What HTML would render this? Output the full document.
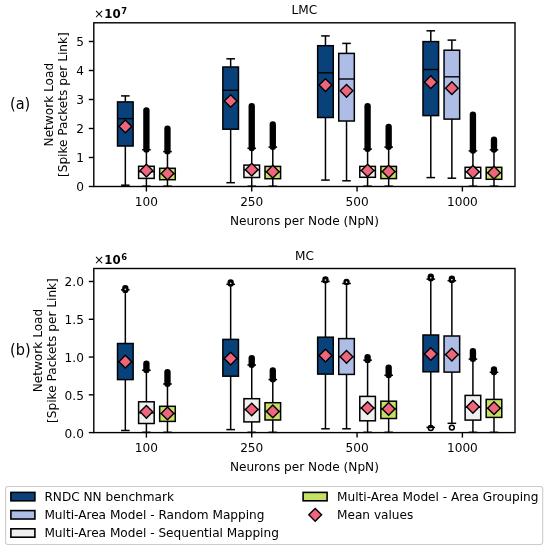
<!DOCTYPE html>
<html><head><meta charset="utf-8"><title>Network Load</title>
<style>html,body{margin:0;padding:0;background:#fff;} svg{display:block;}</style>
</head><body>
<svg width="547" height="550" viewBox="0 0 547 550" font-family="'DejaVu Sans', 'Liberation Sans', sans-serif">
<rect width="547" height="550" fill="#fff"/>
<line x1="125.33" y1="146" x2="125.33" y2="185.2" stroke="#000" stroke-width="1.5"/>
<line x1="125.33" y1="101.9" x2="125.33" y2="95.9" stroke="#000" stroke-width="1.5"/>
<line x1="121.03" y1="185.2" x2="129.63" y2="185.2" stroke="#000" stroke-width="1.5"/>
<line x1="121.03" y1="95.9" x2="129.63" y2="95.9" stroke="#000" stroke-width="1.5"/>
<rect x="117.53" y="101.9" width="15.6" height="44.1" fill="#09427a" stroke="#000" stroke-width="1.5"/>
<line x1="146.4" y1="178.4" x2="146.4" y2="186.2" stroke="#000" stroke-width="1.5"/>
<line x1="146.4" y1="166.3" x2="146.4" y2="149.7" stroke="#000" stroke-width="1.5"/>
<line x1="142.1" y1="186.2" x2="150.7" y2="186.2" stroke="#000" stroke-width="1.5"/>
<line x1="142.1" y1="149.7" x2="150.7" y2="149.7" stroke="#000" stroke-width="1.5"/>
<rect x="138.6" y="166.3" width="15.6" height="12.1" fill="#f0f0f0" stroke="#000" stroke-width="1.5"/>
<line x1="146.4" y1="110.37" x2="146.4" y2="149.42" stroke="#000" stroke-width="6.35" stroke-linecap="round"/>
<line x1="167.47" y1="179.7" x2="167.47" y2="186.2" stroke="#000" stroke-width="1.5"/>
<line x1="167.47" y1="168.3" x2="167.47" y2="151.6" stroke="#000" stroke-width="1.5"/>
<line x1="163.17" y1="186.2" x2="171.77" y2="186.2" stroke="#000" stroke-width="1.5"/>
<line x1="163.17" y1="151.6" x2="171.77" y2="151.6" stroke="#000" stroke-width="1.5"/>
<rect x="159.67" y="168.3" width="15.6" height="11.4" fill="#c4e065" stroke="#000" stroke-width="1.5"/>
<line x1="167.47" y1="128.68" x2="167.47" y2="151.32" stroke="#000" stroke-width="6.35" stroke-linecap="round"/>
<line x1="230.66" y1="129.2" x2="230.66" y2="182.7" stroke="#000" stroke-width="1.5"/>
<line x1="230.66" y1="67" x2="230.66" y2="58.8" stroke="#000" stroke-width="1.5"/>
<line x1="226.36" y1="182.7" x2="234.96" y2="182.7" stroke="#000" stroke-width="1.5"/>
<line x1="226.36" y1="58.8" x2="234.96" y2="58.8" stroke="#000" stroke-width="1.5"/>
<rect x="222.86" y="67" width="15.6" height="62.2" fill="#09427a" stroke="#000" stroke-width="1.5"/>
<line x1="251.73" y1="177.5" x2="251.73" y2="186.2" stroke="#000" stroke-width="1.5"/>
<line x1="251.73" y1="165.1" x2="251.73" y2="148.3" stroke="#000" stroke-width="1.5"/>
<line x1="247.43" y1="186.2" x2="256.03" y2="186.2" stroke="#000" stroke-width="1.5"/>
<line x1="247.43" y1="148.3" x2="256.03" y2="148.3" stroke="#000" stroke-width="1.5"/>
<rect x="243.93" y="165.1" width="15.6" height="12.4" fill="#f0f0f0" stroke="#000" stroke-width="1.5"/>
<line x1="251.73" y1="106.07" x2="251.73" y2="148.03" stroke="#000" stroke-width="6.35" stroke-linecap="round"/>
<line x1="272.8" y1="178.7" x2="272.8" y2="186.2" stroke="#000" stroke-width="1.5"/>
<line x1="272.8" y1="166.4" x2="272.8" y2="147.1" stroke="#000" stroke-width="1.5"/>
<line x1="268.5" y1="186.2" x2="277.1" y2="186.2" stroke="#000" stroke-width="1.5"/>
<line x1="268.5" y1="147.1" x2="277.1" y2="147.1" stroke="#000" stroke-width="1.5"/>
<rect x="265" y="166.4" width="15.6" height="12.3" fill="#c4e065" stroke="#000" stroke-width="1.5"/>
<line x1="272.8" y1="124.47" x2="272.8" y2="146.82" stroke="#000" stroke-width="6.35" stroke-linecap="round"/>
<line x1="325.46" y1="117.5" x2="325.46" y2="180.1" stroke="#000" stroke-width="1.5"/>
<line x1="325.46" y1="45.7" x2="325.46" y2="35.9" stroke="#000" stroke-width="1.5"/>
<line x1="321.16" y1="180.1" x2="329.76" y2="180.1" stroke="#000" stroke-width="1.5"/>
<line x1="321.16" y1="35.9" x2="329.76" y2="35.9" stroke="#000" stroke-width="1.5"/>
<rect x="317.66" y="45.7" width="15.6" height="71.8" fill="#09427a" stroke="#000" stroke-width="1.5"/>
<line x1="346.53" y1="121" x2="346.53" y2="180.8" stroke="#000" stroke-width="1.5"/>
<line x1="346.53" y1="53.4" x2="346.53" y2="43.4" stroke="#000" stroke-width="1.5"/>
<line x1="342.23" y1="180.8" x2="350.83" y2="180.8" stroke="#000" stroke-width="1.5"/>
<line x1="342.23" y1="43.4" x2="350.83" y2="43.4" stroke="#000" stroke-width="1.5"/>
<rect x="338.73" y="53.4" width="15.6" height="67.6" fill="#aebde6" stroke="#000" stroke-width="1.5"/>
<line x1="367.59" y1="177.3" x2="367.59" y2="186.2" stroke="#000" stroke-width="1.5"/>
<line x1="367.59" y1="166.4" x2="367.59" y2="149.1" stroke="#000" stroke-width="1.5"/>
<line x1="363.29" y1="186.2" x2="371.89" y2="186.2" stroke="#000" stroke-width="1.5"/>
<line x1="363.29" y1="149.1" x2="371.89" y2="149.1" stroke="#000" stroke-width="1.5"/>
<rect x="359.79" y="166.4" width="15.6" height="10.9" fill="#f0f0f0" stroke="#000" stroke-width="1.5"/>
<line x1="367.59" y1="106.17" x2="367.59" y2="148.82" stroke="#000" stroke-width="6.35" stroke-linecap="round"/>
<line x1="388.66" y1="178.6" x2="388.66" y2="186.2" stroke="#000" stroke-width="1.5"/>
<line x1="388.66" y1="166.4" x2="388.66" y2="147.1" stroke="#000" stroke-width="1.5"/>
<line x1="384.36" y1="186.2" x2="392.96" y2="186.2" stroke="#000" stroke-width="1.5"/>
<line x1="384.36" y1="147.1" x2="392.96" y2="147.1" stroke="#000" stroke-width="1.5"/>
<rect x="380.86" y="166.4" width="15.6" height="12.2" fill="#c4e065" stroke="#000" stroke-width="1.5"/>
<line x1="388.66" y1="126.87" x2="388.66" y2="146.82" stroke="#000" stroke-width="6.35" stroke-linecap="round"/>
<line x1="430.79" y1="115.6" x2="430.79" y2="177.6" stroke="#000" stroke-width="1.5"/>
<line x1="430.79" y1="41.6" x2="430.79" y2="30.8" stroke="#000" stroke-width="1.5"/>
<line x1="426.49" y1="177.6" x2="435.09" y2="177.6" stroke="#000" stroke-width="1.5"/>
<line x1="426.49" y1="30.8" x2="435.09" y2="30.8" stroke="#000" stroke-width="1.5"/>
<rect x="422.99" y="41.6" width="15.6" height="74" fill="#09427a" stroke="#000" stroke-width="1.5"/>
<line x1="451.86" y1="119.1" x2="451.86" y2="178.2" stroke="#000" stroke-width="1.5"/>
<line x1="451.86" y1="50.2" x2="451.86" y2="40.1" stroke="#000" stroke-width="1.5"/>
<line x1="447.56" y1="178.2" x2="456.16" y2="178.2" stroke="#000" stroke-width="1.5"/>
<line x1="447.56" y1="40.1" x2="456.16" y2="40.1" stroke="#000" stroke-width="1.5"/>
<rect x="444.06" y="50.2" width="15.6" height="68.9" fill="#aebde6" stroke="#000" stroke-width="1.5"/>
<line x1="472.92" y1="178.2" x2="472.92" y2="186.2" stroke="#000" stroke-width="1.5"/>
<line x1="472.92" y1="167.3" x2="472.92" y2="150.9" stroke="#000" stroke-width="1.5"/>
<line x1="468.62" y1="186.2" x2="477.22" y2="186.2" stroke="#000" stroke-width="1.5"/>
<line x1="468.62" y1="150.9" x2="477.22" y2="150.9" stroke="#000" stroke-width="1.5"/>
<rect x="465.12" y="167.3" width="15.6" height="10.9" fill="#f0f0f0" stroke="#000" stroke-width="1.5"/>
<line x1="472.92" y1="114.57" x2="472.92" y2="150.62" stroke="#000" stroke-width="6.35" stroke-linecap="round"/>
<line x1="493.99" y1="179.3" x2="493.99" y2="186.2" stroke="#000" stroke-width="1.5"/>
<line x1="493.99" y1="167.3" x2="493.99" y2="149.8" stroke="#000" stroke-width="1.5"/>
<line x1="489.69" y1="186.2" x2="498.29" y2="186.2" stroke="#000" stroke-width="1.5"/>
<line x1="489.69" y1="149.8" x2="498.29" y2="149.8" stroke="#000" stroke-width="1.5"/>
<rect x="486.19" y="167.3" width="15.6" height="12" fill="#c4e065" stroke="#000" stroke-width="1.5"/>
<line x1="493.99" y1="139.78" x2="493.99" y2="149.53" stroke="#000" stroke-width="6.35" stroke-linecap="round"/>
<line x1="117.53" y1="118.6" x2="133.13" y2="118.6" stroke="#000" stroke-width="1.4"/>
<line x1="138.6" y1="171.7" x2="154.2" y2="171.7" stroke="#000" stroke-width="1.4"/>
<line x1="159.67" y1="173.6" x2="175.27" y2="173.6" stroke="#000" stroke-width="1.4"/>
<line x1="222.86" y1="90.3" x2="238.46" y2="90.3" stroke="#000" stroke-width="1.4"/>
<line x1="243.93" y1="169.7" x2="259.53" y2="169.7" stroke="#000" stroke-width="1.4"/>
<line x1="265" y1="171.7" x2="280.6" y2="171.7" stroke="#000" stroke-width="1.4"/>
<line x1="317.66" y1="72.8" x2="333.26" y2="72.8" stroke="#000" stroke-width="1.4"/>
<line x1="338.73" y1="79" x2="354.33" y2="79" stroke="#000" stroke-width="1.4"/>
<line x1="359.79" y1="170.5" x2="375.39" y2="170.5" stroke="#000" stroke-width="1.4"/>
<line x1="380.86" y1="171.6" x2="396.46" y2="171.6" stroke="#000" stroke-width="1.4"/>
<line x1="422.99" y1="69.5" x2="438.59" y2="69.5" stroke="#000" stroke-width="1.4"/>
<line x1="444.06" y1="76.8" x2="459.66" y2="76.8" stroke="#000" stroke-width="1.4"/>
<line x1="465.12" y1="171.8" x2="480.72" y2="171.8" stroke="#000" stroke-width="1.4"/>
<line x1="486.19" y1="172.7" x2="501.79" y2="172.7" stroke="#000" stroke-width="1.4"/>
<path d="M125.33 120.05L131.68 126.4L125.33 132.75L118.98 126.4Z" fill="#ef657b" stroke="#000" stroke-width="1.4" stroke-linejoin="miter"/>
<path d="M146.4 164.25L152.75 170.6L146.4 176.95L140.05 170.6Z" fill="#ef657b" stroke="#000" stroke-width="1.4" stroke-linejoin="miter"/>
<path d="M167.47 167.25L173.82 173.6L167.47 179.95L161.12 173.6Z" fill="#ef657b" stroke="#000" stroke-width="1.4" stroke-linejoin="miter"/>
<path d="M230.66 94.65L237.01 101L230.66 107.35L224.31 101Z" fill="#ef657b" stroke="#000" stroke-width="1.4" stroke-linejoin="miter"/>
<path d="M251.73 163.35L258.08 169.7L251.73 176.05L245.38 169.7Z" fill="#ef657b" stroke="#000" stroke-width="1.4" stroke-linejoin="miter"/>
<path d="M272.8 165.35L279.15 171.7L272.8 178.05L266.45 171.7Z" fill="#ef657b" stroke="#000" stroke-width="1.4" stroke-linejoin="miter"/>
<path d="M325.46 78.75L331.81 85.1L325.46 91.45L319.11 85.1Z" fill="#ef657b" stroke="#000" stroke-width="1.4" stroke-linejoin="miter"/>
<path d="M346.53 84.45L352.88 90.8L346.53 97.15L340.18 90.8Z" fill="#ef657b" stroke="#000" stroke-width="1.4" stroke-linejoin="miter"/>
<path d="M367.59 164.15L373.94 170.5L367.59 176.85L361.24 170.5Z" fill="#ef657b" stroke="#000" stroke-width="1.4" stroke-linejoin="miter"/>
<path d="M388.66 165.25L395.01 171.6L388.66 177.95L382.31 171.6Z" fill="#ef657b" stroke="#000" stroke-width="1.4" stroke-linejoin="miter"/>
<path d="M430.79 75.85L437.14 82.2L430.79 88.55L424.44 82.2Z" fill="#ef657b" stroke="#000" stroke-width="1.4" stroke-linejoin="miter"/>
<path d="M451.86 81.85L458.21 88.2L451.86 94.55L445.51 88.2Z" fill="#ef657b" stroke="#000" stroke-width="1.4" stroke-linejoin="miter"/>
<path d="M472.92 165.45L479.27 171.8L472.92 178.15L466.57 171.8Z" fill="#ef657b" stroke="#000" stroke-width="1.4" stroke-linejoin="miter"/>
<path d="M493.99 166.35L500.34 172.7L493.99 179.05L487.64 172.7Z" fill="#ef657b" stroke="#000" stroke-width="1.4" stroke-linejoin="miter"/>
<rect x="93.8" y="22.8" width="421.2" height="163.7" fill="none" stroke="#000" stroke-width="1.4"/>
<line x1="88.8" y1="186.5" x2="93.8" y2="186.5" stroke="#000" stroke-width="1.4"/>
<text x="83.9" y="191.4" font-size="12.13" text-anchor="end">0</text>
<line x1="88.8" y1="157.5" x2="93.8" y2="157.5" stroke="#000" stroke-width="1.4"/>
<text x="83.9" y="162.4" font-size="12.13" text-anchor="end">1</text>
<line x1="88.8" y1="128.5" x2="93.8" y2="128.5" stroke="#000" stroke-width="1.4"/>
<text x="83.9" y="133.4" font-size="12.13" text-anchor="end">2</text>
<line x1="88.8" y1="99.5" x2="93.8" y2="99.5" stroke="#000" stroke-width="1.4"/>
<text x="83.9" y="104.4" font-size="12.13" text-anchor="end">3</text>
<line x1="88.8" y1="70.5" x2="93.8" y2="70.5" stroke="#000" stroke-width="1.4"/>
<text x="83.9" y="75.4" font-size="12.13" text-anchor="end">4</text>
<line x1="88.8" y1="41.5" x2="93.8" y2="41.5" stroke="#000" stroke-width="1.4"/>
<text x="83.9" y="46.4" font-size="12.13" text-anchor="end">5</text>
<line x1="146.4" y1="186.5" x2="146.4" y2="191.5" stroke="#000" stroke-width="1.4"/>
<text x="146.4" y="206.1" font-size="12.13" text-anchor="middle">100</text>
<line x1="251.73" y1="186.5" x2="251.73" y2="191.5" stroke="#000" stroke-width="1.4"/>
<text x="251.73" y="206.1" font-size="12.13" text-anchor="middle">250</text>
<line x1="357.06" y1="186.5" x2="357.06" y2="191.5" stroke="#000" stroke-width="1.4"/>
<text x="357.06" y="206.1" font-size="12.13" text-anchor="middle">500</text>
<line x1="462.39" y1="186.5" x2="462.39" y2="191.5" stroke="#000" stroke-width="1.4"/>
<text x="462.39" y="206.1" font-size="12.13" text-anchor="middle">1000</text>
<text x="304.4" y="224.6" font-size="12.13" text-anchor="middle">Neurons per Node (NpN)</text>
<text x="304.4" y="13.9" font-size="12.13" text-anchor="middle">LMC</text>
<line x1="125.33" y1="379.6" x2="125.33" y2="430.5" stroke="#000" stroke-width="1.5"/>
<line x1="125.33" y1="343.5" x2="125.33" y2="289.8" stroke="#000" stroke-width="1.5"/>
<line x1="121.03" y1="430.5" x2="129.63" y2="430.5" stroke="#000" stroke-width="1.5"/>
<line x1="121.03" y1="289.8" x2="129.63" y2="289.8" stroke="#000" stroke-width="1.5"/>
<rect x="117.53" y="343.5" width="15.6" height="36.1" fill="#09427a" stroke="#000" stroke-width="1.5"/>
<line x1="125.33" y1="288.18" x2="125.33" y2="289.92" stroke="#000" stroke-width="6.35" stroke-linecap="round"/>
<circle cx="125.33" cy="289.35" r="0.85" fill="#d8d8d8"/>
<line x1="146.4" y1="423.5" x2="146.4" y2="432.3" stroke="#000" stroke-width="1.5"/>
<line x1="146.4" y1="401.8" x2="146.4" y2="370.2" stroke="#000" stroke-width="1.5"/>
<line x1="142.1" y1="432.3" x2="150.7" y2="432.3" stroke="#000" stroke-width="1.5"/>
<line x1="142.1" y1="370.2" x2="150.7" y2="370.2" stroke="#000" stroke-width="1.5"/>
<rect x="138.6" y="401.8" width="15.6" height="21.7" fill="#f0f0f0" stroke="#000" stroke-width="1.5"/>
<line x1="146.4" y1="363.68" x2="146.4" y2="369.92" stroke="#000" stroke-width="6.35" stroke-linecap="round"/>
<line x1="167.47" y1="421.4" x2="167.47" y2="432.3" stroke="#000" stroke-width="1.5"/>
<line x1="167.47" y1="406.3" x2="167.47" y2="384" stroke="#000" stroke-width="1.5"/>
<line x1="163.17" y1="432.3" x2="171.77" y2="432.3" stroke="#000" stroke-width="1.5"/>
<line x1="163.17" y1="384" x2="171.77" y2="384" stroke="#000" stroke-width="1.5"/>
<rect x="159.67" y="406.3" width="15.6" height="15.1" fill="#c4e065" stroke="#000" stroke-width="1.5"/>
<line x1="167.47" y1="372.18" x2="167.47" y2="383.72" stroke="#000" stroke-width="6.35" stroke-linecap="round"/>
<line x1="230.66" y1="376.2" x2="230.66" y2="429.6" stroke="#000" stroke-width="1.5"/>
<line x1="230.66" y1="339.4" x2="230.66" y2="284.3" stroke="#000" stroke-width="1.5"/>
<line x1="226.36" y1="429.6" x2="234.96" y2="429.6" stroke="#000" stroke-width="1.5"/>
<line x1="226.36" y1="284.3" x2="234.96" y2="284.3" stroke="#000" stroke-width="1.5"/>
<rect x="222.86" y="339.4" width="15.6" height="36.8" fill="#09427a" stroke="#000" stroke-width="1.5"/>
<line x1="230.66" y1="282.38" x2="230.66" y2="283.52" stroke="#000" stroke-width="6.35" stroke-linecap="round"/>
<circle cx="230.66" cy="283.25" r="0.85" fill="#d8d8d8"/>
<line x1="251.73" y1="421.9" x2="251.73" y2="432.3" stroke="#000" stroke-width="1.5"/>
<line x1="251.73" y1="398.7" x2="251.73" y2="365" stroke="#000" stroke-width="1.5"/>
<line x1="247.43" y1="432.3" x2="256.03" y2="432.3" stroke="#000" stroke-width="1.5"/>
<line x1="247.43" y1="365" x2="256.03" y2="365" stroke="#000" stroke-width="1.5"/>
<rect x="243.93" y="398.7" width="15.6" height="23.2" fill="#f0f0f0" stroke="#000" stroke-width="1.5"/>
<line x1="251.73" y1="358.18" x2="251.73" y2="364.72" stroke="#000" stroke-width="6.35" stroke-linecap="round"/>
<line x1="272.8" y1="420" x2="272.8" y2="432.3" stroke="#000" stroke-width="1.5"/>
<line x1="272.8" y1="402.7" x2="272.8" y2="379.6" stroke="#000" stroke-width="1.5"/>
<line x1="268.5" y1="432.3" x2="277.1" y2="432.3" stroke="#000" stroke-width="1.5"/>
<line x1="268.5" y1="379.6" x2="277.1" y2="379.6" stroke="#000" stroke-width="1.5"/>
<rect x="265" y="402.7" width="15.6" height="17.3" fill="#c4e065" stroke="#000" stroke-width="1.5"/>
<line x1="272.8" y1="370.48" x2="272.8" y2="379.32" stroke="#000" stroke-width="6.35" stroke-linecap="round"/>
<line x1="325.46" y1="374.1" x2="325.46" y2="428.8" stroke="#000" stroke-width="1.5"/>
<line x1="325.46" y1="337.2" x2="325.46" y2="281.5" stroke="#000" stroke-width="1.5"/>
<line x1="321.16" y1="428.8" x2="329.76" y2="428.8" stroke="#000" stroke-width="1.5"/>
<line x1="321.16" y1="281.5" x2="329.76" y2="281.5" stroke="#000" stroke-width="1.5"/>
<rect x="317.66" y="337.2" width="15.6" height="36.9" fill="#09427a" stroke="#000" stroke-width="1.5"/>
<line x1="325.46" y1="279.38" x2="325.46" y2="280.22" stroke="#000" stroke-width="6.35" stroke-linecap="round"/>
<circle cx="325.46" cy="280.1" r="0.85" fill="#d8d8d8"/>
<line x1="346.53" y1="374.4" x2="346.53" y2="428.8" stroke="#000" stroke-width="1.5"/>
<line x1="346.53" y1="338.6" x2="346.53" y2="283.5" stroke="#000" stroke-width="1.5"/>
<line x1="342.23" y1="428.8" x2="350.83" y2="428.8" stroke="#000" stroke-width="1.5"/>
<line x1="342.23" y1="283.5" x2="350.83" y2="283.5" stroke="#000" stroke-width="1.5"/>
<rect x="338.73" y="338.6" width="15.6" height="35.8" fill="#aebde6" stroke="#000" stroke-width="1.5"/>
<line x1="346.53" y1="281.88" x2="346.53" y2="281.92" stroke="#000" stroke-width="6.35" stroke-linecap="round"/>
<circle cx="346.53" cy="282.2" r="0.85" fill="#d8d8d8"/>
<line x1="367.59" y1="420.8" x2="367.59" y2="432.3" stroke="#000" stroke-width="1.5"/>
<line x1="367.59" y1="396.4" x2="367.59" y2="360.2" stroke="#000" stroke-width="1.5"/>
<line x1="363.29" y1="432.3" x2="371.89" y2="432.3" stroke="#000" stroke-width="1.5"/>
<line x1="363.29" y1="360.2" x2="371.89" y2="360.2" stroke="#000" stroke-width="1.5"/>
<rect x="359.79" y="396.4" width="15.6" height="24.4" fill="#f0f0f0" stroke="#000" stroke-width="1.5"/>
<line x1="367.59" y1="357.28" x2="367.59" y2="359.92" stroke="#000" stroke-width="6.35" stroke-linecap="round"/>
<line x1="388.66" y1="418.5" x2="388.66" y2="432.3" stroke="#000" stroke-width="1.5"/>
<line x1="388.66" y1="401.2" x2="388.66" y2="375.3" stroke="#000" stroke-width="1.5"/>
<line x1="384.36" y1="432.3" x2="392.96" y2="432.3" stroke="#000" stroke-width="1.5"/>
<line x1="384.36" y1="375.3" x2="392.96" y2="375.3" stroke="#000" stroke-width="1.5"/>
<rect x="380.86" y="401.2" width="15.6" height="17.3" fill="#c4e065" stroke="#000" stroke-width="1.5"/>
<line x1="388.66" y1="367.58" x2="388.66" y2="375.02" stroke="#000" stroke-width="6.35" stroke-linecap="round"/>
<line x1="430.79" y1="371.8" x2="430.79" y2="427.4" stroke="#000" stroke-width="1.5"/>
<line x1="430.79" y1="335" x2="430.79" y2="279.1" stroke="#000" stroke-width="1.5"/>
<line x1="426.49" y1="427.4" x2="435.09" y2="427.4" stroke="#000" stroke-width="1.5"/>
<line x1="426.49" y1="279.1" x2="435.09" y2="279.1" stroke="#000" stroke-width="1.5"/>
<rect x="422.99" y="335" width="15.6" height="36.8" fill="#09427a" stroke="#000" stroke-width="1.5"/>
<line x1="430.79" y1="276.58" x2="430.79" y2="278.32" stroke="#000" stroke-width="6.35" stroke-linecap="round"/>
<circle cx="430.79" cy="277.75" r="0.85" fill="#d8d8d8"/>
<circle cx="430.79" cy="428" r="2.4" fill="none" stroke="#000" stroke-width="1.55"/>
<line x1="451.86" y1="372.1" x2="451.86" y2="423.3" stroke="#000" stroke-width="1.5"/>
<line x1="451.86" y1="336" x2="451.86" y2="280.7" stroke="#000" stroke-width="1.5"/>
<line x1="447.56" y1="423.3" x2="456.16" y2="423.3" stroke="#000" stroke-width="1.5"/>
<line x1="447.56" y1="280.7" x2="456.16" y2="280.7" stroke="#000" stroke-width="1.5"/>
<rect x="444.06" y="336" width="15.6" height="36.1" fill="#aebde6" stroke="#000" stroke-width="1.5"/>
<line x1="451.86" y1="278.68" x2="451.86" y2="279.92" stroke="#000" stroke-width="6.35" stroke-linecap="round"/>
<circle cx="451.86" cy="279.6" r="0.85" fill="#d8d8d8"/>
<circle cx="451.86" cy="427.6" r="2.4" fill="none" stroke="#000" stroke-width="1.55"/>
<line x1="472.92" y1="420.1" x2="472.92" y2="432.3" stroke="#000" stroke-width="1.5"/>
<line x1="472.92" y1="395.4" x2="472.92" y2="359.1" stroke="#000" stroke-width="1.5"/>
<line x1="468.62" y1="432.3" x2="477.22" y2="432.3" stroke="#000" stroke-width="1.5"/>
<line x1="468.62" y1="359.1" x2="477.22" y2="359.1" stroke="#000" stroke-width="1.5"/>
<rect x="465.12" y="395.4" width="15.6" height="24.7" fill="#f0f0f0" stroke="#000" stroke-width="1.5"/>
<line x1="472.92" y1="351.08" x2="472.92" y2="358.82" stroke="#000" stroke-width="6.35" stroke-linecap="round"/>
<line x1="493.99" y1="417.4" x2="493.99" y2="432.3" stroke="#000" stroke-width="1.5"/>
<line x1="493.99" y1="399.4" x2="493.99" y2="372.3" stroke="#000" stroke-width="1.5"/>
<line x1="489.69" y1="432.3" x2="498.29" y2="432.3" stroke="#000" stroke-width="1.5"/>
<line x1="489.69" y1="372.3" x2="498.29" y2="372.3" stroke="#000" stroke-width="1.5"/>
<rect x="486.19" y="399.4" width="15.6" height="18" fill="#c4e065" stroke="#000" stroke-width="1.5"/>
<line x1="493.99" y1="369.38" x2="493.99" y2="372.02" stroke="#000" stroke-width="6.35" stroke-linecap="round"/>
<line x1="117.53" y1="361.7" x2="133.13" y2="361.7" stroke="#000" stroke-width="1.4"/>
<line x1="138.6" y1="412.9" x2="154.2" y2="412.9" stroke="#000" stroke-width="1.4"/>
<line x1="159.67" y1="413.5" x2="175.27" y2="413.5" stroke="#000" stroke-width="1.4"/>
<line x1="222.86" y1="358.6" x2="238.46" y2="358.6" stroke="#000" stroke-width="1.4"/>
<line x1="243.93" y1="409.5" x2="259.53" y2="409.5" stroke="#000" stroke-width="1.4"/>
<line x1="265" y1="411.4" x2="280.6" y2="411.4" stroke="#000" stroke-width="1.4"/>
<line x1="317.66" y1="355.6" x2="333.26" y2="355.6" stroke="#000" stroke-width="1.4"/>
<line x1="338.73" y1="356.8" x2="354.33" y2="356.8" stroke="#000" stroke-width="1.4"/>
<line x1="359.79" y1="408" x2="375.39" y2="408" stroke="#000" stroke-width="1.4"/>
<line x1="380.86" y1="408.9" x2="396.46" y2="408.9" stroke="#000" stroke-width="1.4"/>
<line x1="422.99" y1="354" x2="438.59" y2="354" stroke="#000" stroke-width="1.4"/>
<line x1="444.06" y1="354.6" x2="459.66" y2="354.6" stroke="#000" stroke-width="1.4"/>
<line x1="465.12" y1="407.3" x2="480.72" y2="407.3" stroke="#000" stroke-width="1.4"/>
<line x1="486.19" y1="408.3" x2="501.79" y2="408.3" stroke="#000" stroke-width="1.4"/>
<path d="M125.33 355.35L131.68 361.7L125.33 368.05L118.98 361.7Z" fill="#ef657b" stroke="#000" stroke-width="1.4" stroke-linejoin="miter"/>
<path d="M146.4 405.45L152.75 411.8L146.4 418.15L140.05 411.8Z" fill="#ef657b" stroke="#000" stroke-width="1.4" stroke-linejoin="miter"/>
<path d="M167.47 407.05L173.82 413.4L167.47 419.75L161.12 413.4Z" fill="#ef657b" stroke="#000" stroke-width="1.4" stroke-linejoin="miter"/>
<path d="M230.66 352.25L237.01 358.6L230.66 364.95L224.31 358.6Z" fill="#ef657b" stroke="#000" stroke-width="1.4" stroke-linejoin="miter"/>
<path d="M251.73 403.15L258.08 409.5L251.73 415.85L245.38 409.5Z" fill="#ef657b" stroke="#000" stroke-width="1.4" stroke-linejoin="miter"/>
<path d="M272.8 405.05L279.15 411.4L272.8 417.75L266.45 411.4Z" fill="#ef657b" stroke="#000" stroke-width="1.4" stroke-linejoin="miter"/>
<path d="M325.46 349.25L331.81 355.6L325.46 361.95L319.11 355.6Z" fill="#ef657b" stroke="#000" stroke-width="1.4" stroke-linejoin="miter"/>
<path d="M346.53 350.45L352.88 356.8L346.53 363.15L340.18 356.8Z" fill="#ef657b" stroke="#000" stroke-width="1.4" stroke-linejoin="miter"/>
<path d="M367.59 401.65L373.94 408L367.59 414.35L361.24 408Z" fill="#ef657b" stroke="#000" stroke-width="1.4" stroke-linejoin="miter"/>
<path d="M388.66 402.55L395.01 408.9L388.66 415.25L382.31 408.9Z" fill="#ef657b" stroke="#000" stroke-width="1.4" stroke-linejoin="miter"/>
<path d="M430.79 347.65L437.14 354L430.79 360.35L424.44 354Z" fill="#ef657b" stroke="#000" stroke-width="1.4" stroke-linejoin="miter"/>
<path d="M451.86 348.25L458.21 354.6L451.86 360.95L445.51 354.6Z" fill="#ef657b" stroke="#000" stroke-width="1.4" stroke-linejoin="miter"/>
<path d="M472.92 400.45L479.27 406.8L472.92 413.15L466.57 406.8Z" fill="#ef657b" stroke="#000" stroke-width="1.4" stroke-linejoin="miter"/>
<path d="M493.99 401.85L500.34 408.2L493.99 414.55L487.64 408.2Z" fill="#ef657b" stroke="#000" stroke-width="1.4" stroke-linejoin="miter"/>
<rect x="93.8" y="268.5" width="421.2" height="164.1" fill="none" stroke="#000" stroke-width="1.4"/>
<line x1="88.8" y1="432.6" x2="93.8" y2="432.6" stroke="#000" stroke-width="1.4"/>
<text x="83.9" y="437.5" font-size="12.13" text-anchor="end">0.0</text>
<line x1="88.8" y1="394.83" x2="93.8" y2="394.83" stroke="#000" stroke-width="1.4"/>
<text x="83.9" y="399.73" font-size="12.13" text-anchor="end">0.5</text>
<line x1="88.8" y1="357.05" x2="93.8" y2="357.05" stroke="#000" stroke-width="1.4"/>
<text x="83.9" y="361.95" font-size="12.13" text-anchor="end">1.0</text>
<line x1="88.8" y1="319.28" x2="93.8" y2="319.28" stroke="#000" stroke-width="1.4"/>
<text x="83.9" y="324.18" font-size="12.13" text-anchor="end">1.5</text>
<line x1="88.8" y1="281.5" x2="93.8" y2="281.5" stroke="#000" stroke-width="1.4"/>
<text x="83.9" y="286.4" font-size="12.13" text-anchor="end">2.0</text>
<line x1="146.4" y1="432.6" x2="146.4" y2="437.6" stroke="#000" stroke-width="1.4"/>
<text x="146.4" y="452.2" font-size="12.13" text-anchor="middle">100</text>
<line x1="251.73" y1="432.6" x2="251.73" y2="437.6" stroke="#000" stroke-width="1.4"/>
<text x="251.73" y="452.2" font-size="12.13" text-anchor="middle">250</text>
<line x1="357.06" y1="432.6" x2="357.06" y2="437.6" stroke="#000" stroke-width="1.4"/>
<text x="357.06" y="452.2" font-size="12.13" text-anchor="middle">500</text>
<line x1="462.39" y1="432.6" x2="462.39" y2="437.6" stroke="#000" stroke-width="1.4"/>
<text x="462.39" y="452.2" font-size="12.13" text-anchor="middle">1000</text>
<text x="304.4" y="470.7" font-size="12.13" text-anchor="middle">Neurons per Node (NpN)</text>
<text x="304.4" y="259.6" font-size="12.13" text-anchor="middle">MC</text>
<text x="94.1" y="17.8" font-size="12.13">×<tspan font-weight="bold" font-size="11.8">10</tspan><tspan font-weight="bold" font-size="8.4" dx="0.5" dy="-3.7">7</tspan></text>
<text x="94.1" y="263.8" font-size="12.13">×<tspan font-weight="bold" font-size="11.8">10</tspan><tspan font-weight="bold" font-size="8.4" dx="0.5" dy="-3.7">6</tspan></text>
<text transform="translate(52.5,104.65) rotate(-90)" font-size="12.13" text-anchor="middle">Network Load</text>
<text transform="translate(67.0,104.65) rotate(-90)" font-size="12.13" text-anchor="middle">[Spike Packets per Link]</text>
<text transform="translate(41.7,350.55) rotate(-90)" font-size="12.13" text-anchor="middle">Network Load</text>
<text transform="translate(55.7,350.55) rotate(-90)" font-size="12.13" text-anchor="middle">[Spike Packets per Link]</text>
<text transform="translate(10.0 109.4) scale(1 1.07)" font-size="14.55">(a)</text>
<text transform="translate(10.0 354.7) scale(1 1.07)" font-size="14.55">(b)</text>
<rect x="5.6" y="486.5" width="537.1" height="58.0" rx="2.4" ry="2.4" fill="#fff" stroke="#cccccc" stroke-width="1.1"/>
<rect x="10.9" y="492.4" width="24" height="8.4" fill="#09427a" stroke="#000" stroke-width="1.6"/>
<text x="44.4" y="500.8" font-size="12.13" text-anchor="start">RNDC NN benchmark</text>
<rect x="10.9" y="510.6" width="24" height="8.4" fill="#aebde6" stroke="#000" stroke-width="1.6"/>
<text x="44.4" y="519" font-size="12.13" text-anchor="start">Multi-Area Model - Random Mapping</text>
<rect x="10.9" y="528.8" width="24" height="8.4" fill="#f0f0f0" stroke="#000" stroke-width="1.6"/>
<text x="44.4" y="537.2" font-size="12.13" text-anchor="start">Multi-Area Model - Sequential Mapping</text>
<rect x="303.1" y="492.4" width="24" height="8.4" fill="#c4e065" stroke="#000" stroke-width="1.6"/>
<text x="337" y="500.8" font-size="12.13" text-anchor="start">Multi-Area Model - Area Grouping</text>
<path d="M315.2 508.4L321.6 514.8L315.2 521.2L308.8 514.8Z" fill="#ef657b" stroke="#000" stroke-width="1.4"/>
<text x="337" y="519" font-size="12.13" text-anchor="start">Mean values</text>
</svg>
</body></html>
